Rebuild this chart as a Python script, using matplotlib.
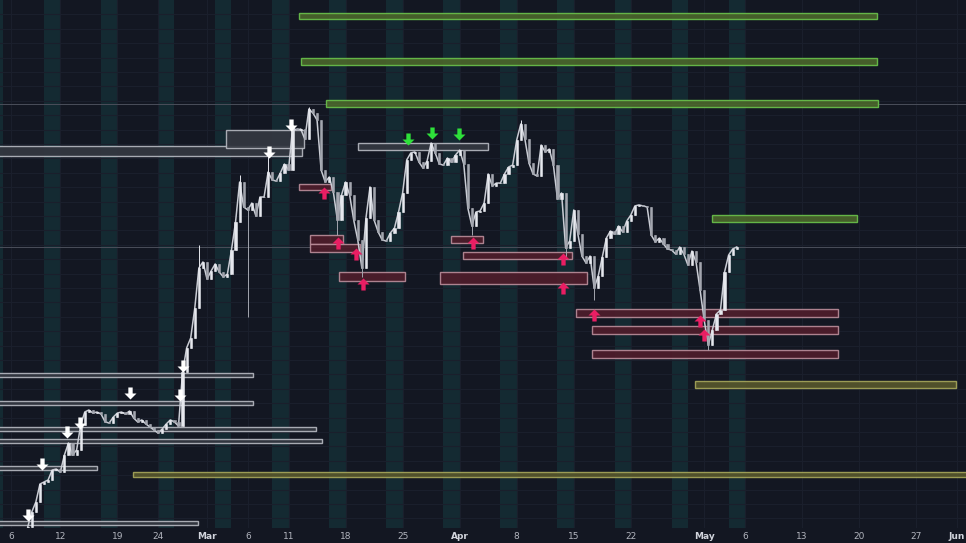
import matplotlib
matplotlib.use("Agg")
import matplotlib.pyplot as plt
import matplotlib.dates as mdates
from matplotlib.patches import Rectangle
from matplotlib.path import Path
import numpy as np
import pandas as pd

# 12h closes, starting 2024-02-08 00:00
closes = [
    44400, 45450, 46140, 47390, 47530, 47670, 48360, 48430, 48220, 49400,
    50240, 49400, 49750, 51490, 52390, 52530, 52320, 52390, 52250, 51700,
    51630, 52040, 52320, 52390, 52250, 52460, 51970, 51700, 51840, 51560,
    51350, 51140, 50930, 51210, 51560, 51840, 51700, 51420, 55170, 56840,
    57530, 59610, 62390, 62810, 61630, 62180, 62670, 62110, 61770, 61970,
    63640, 65580, 68360, 66630, 66420, 66900, 66000, 67320, 67320, 69060,
    68500, 68430, 68990, 69610, 69200, 72110, 71970, 72040, 71350, 73430,
    73150, 72670, 69200, 68360, 68710, 67670, 65720, 67460, 68360, 67460,
    65720, 64330, 62390, 65860, 68020, 65720, 64890, 64330, 64270, 64820,
    65170, 66280, 67600, 69890, 70380, 70450, 69750, 69330, 69820, 71070,
    70380, 69610, 69540, 70030, 69750, 70240, 70580, 69610, 66560, 65310,
    66280, 66350, 66900, 68920, 68080, 68290, 68290, 68920, 69400, 69540,
    71280, 72390, 71350, 69680, 68920, 68780, 70930, 70450, 70650, 69540,
    67180, 67600, 63780, 64270, 66420, 64750, 63220, 62740, 63220, 61000,
    61840, 63150, 64470, 64960, 64750, 65310, 64890, 65650, 66070, 66700,
    66770, 66700, 66630, 64680, 64200, 64470, 64060, 63710, 63640, 63360,
    63850, 63360, 62600, 63570, 62810, 60860, 58780, 57040, 58090, 59200,
    59470, 62110, 63290, 63710, 63850,
]
first_open = 44100
wick_hi = {42: 63990, 52: 68850, 59: 70380, 65: 72320, 69: 73570, 121: 72670}
wick_lo = {54: 58990, 76: 64680, 82: 61770, 109: 64680, 132: 63010, 139: 60170, 167: 56700}

last_price = 63850
high_line = 73780

# zones: start, end, top, bottom, kind
zone_start = ["2024-03-12 07:00", "2024-03-12 13:00", "2024-03-15 14:00", "2024-05-02 00:00",
              "2024-04-29 21:00", "2024-02-20 22:00",
              "2024-01-20", "2024-03-03 08:00", "2024-03-19 13:00", "2024-01-20", "2024-01-20",
              "2024-01-20", "2024-01-20", "2024-01-20", "2024-01-20",
              "2024-03-12 07:00", "2024-03-13 15:00", "2024-03-13 15:00", "2024-03-17 05:00",
              "2024-03-30 23:00", "2024-04-01 10:00", "2024-03-29 14:00", "2024-04-15 07:00",
              "2024-04-17 06:00", "2024-04-17 06:00"]
zone_end = ["2024-05-22 05:00", "2024-05-22 05:00", "2024-05-22 08:00", "2024-05-19 18:00",
            "2024-05-31 22:00", "2024-06-15",
            "2024-03-12 16:00", "2024-03-12 22:00", "2024-04-04 12:00", "2024-03-06 15:00", "2024-03-06 15:00",
            "2024-03-14 09:00", "2024-03-15 03:00", "2024-02-16 12:00", "2024-02-28 21:00",
            "2024-03-16 05:00", "2024-03-17 17:00", "2024-03-19 18:00", "2024-03-25 07:00",
            "2024-04-03 21:00", "2024-04-14 19:00", "2024-04-16 15:00", "2024-05-17 10:00",
            "2024-05-17 10:00", "2024-05-17 10:00"]
zone_top = [80100, 76970, 74060, 66070,
            54540, 48220,
            70860, 71970, 71070, 55100, 53150,
            51350, 50520, 48640, 44820,
            68220, 64680, 64060, 62110,
            64610, 63500, 62110, 59540,
            58360, 56700]
zone_bottom = [79680, 76490, 73570, 65580,
               54060, 47880,
               70170, 70720, 70580, 54820, 52880,
               51070, 50240, 48360, 44540,
               67810, 64060, 63500, 61490,
               64130, 63010, 61280, 58990,
               57810, 56140]
zone_kind = ["green"] * 4 + ["yellow"] * 2 + ["white"] * 9 + ["red"] * 10

# pivot arrows
white_time = ["2024-02-08 01:00", "2024-02-09 18:00", "2024-02-12 20:00", "2024-02-14 10:00",
              "2024-02-20 13:00", "2024-02-26 17:00", "2024-02-27 01:00", "2024-03-08 15:00",
              "2024-03-11 07:00"]
white_price = [45240, 48780, 51000, 51630, 53710, 53570, 55590, 70450, 72320]
green_time = ["2024-03-25 16:00", "2024-03-28 14:00", "2024-03-31 22:00"]
green_price = [71350, 71760, 71690]
pink_time = ["2024-03-15 09:00", "2024-03-17 02:00", "2024-03-19 07:00", "2024-03-20 03:00",
             "2024-04-02 15:00", "2024-04-13 16:00", "2024-04-13 16:00", "2024-04-17 12:00",
             "2024-04-30 12:00", "2024-05-01 00:00"]
pink_price = [67600, 64130, 63360, 61280, 64130, 63010, 61000, 59130, 58710, 57740]

tick_dates = ["2024-02-06", "2024-02-12", "2024-02-19", "2024-02-24", "2024-03-01", "2024-03-06",
              "2024-03-11", "2024-03-18", "2024-03-25", "2024-04-01", "2024-04-08", "2024-04-15",
              "2024-04-22", "2024-05-01", "2024-05-06", "2024-05-13", "2024-05-20", "2024-05-27",
              "2024-06-01"]
tick_labels = ["6", "12", "19", "24", "Mar", "6", "11", "18", "25", "Apr", "8", "15", "22",
               "May", "6", "13", "20", "27", "Jun"]

BG = "#131722"
fig = plt.figure(figsize=(9.66, 5.43), dpi=100, facecolor=BG)
ax = fig.add_axes([0, 15 / 543, 1, 528 / 543])
ax.set_facecolor(BG)
for s in ax.spines.values():
    s.set_visible(False)

x0 = mdates.date2num(pd.Timestamp("2024-02-04 14:24"))
x1 = mdates.date2num(pd.Timestamp("2024-06-02 03:00"))
ax.set_xlim(x0, x1)
ax.set_ylim(44336, 81000)

# weekend shading
for sat in pd.date_range("2024-02-03", "2024-05-04", freq="7D"):
    ax.axvspan(sat, sat + pd.Timedelta(days=2), color="#142a32", lw=0, zorder=0)

# grid
for p in range(45000, 81000, 1000):
    ax.axhline(p, color="#1a1f2c", lw=0.8, zorder=0.5)
ticks = [mdates.date2num(pd.Timestamp(d)) for d in tick_dates]
for t in ticks:
    ax.axvline(t, color="#1a1f2c", lw=0.8, zorder=0.5)

ax.axhline(high_line, color="#4a4e5a", lw=0.7, zorder=0.6)
ax.axhline(last_price, color="#4a4e5a", lw=0.7, zorder=0.6)

# zones
styles = {
    "green": ("#4a652b", "#69c04a"),
    "yellow": ("#56562c", "#a5a55a"),
    "white": ("#343841", "#b4b7bf"),
    "red": ("#4e1d2b", "#b98c99"),
}
for s, e, top, bot, k in zip(zone_start, zone_end, zone_top, zone_bottom, zone_kind):
    a = mdates.date2num(pd.Timestamp(s))
    b = mdates.date2num(pd.Timestamp(e))
    fc, ec = styles[k]
    ax.add_patch(Rectangle((a, bot), b - a, top - bot, facecolor=fc, edgecolor=ec,
                           lw=1.0, alpha=0.92, zorder=2))

# candles
times = mdates.date2num(pd.date_range("2024-02-08", periods=len(closes), freq="12h"))
closes_a = np.array(closes, dtype=float)
opens_a = np.concatenate([[first_open], closes_a[:-1]])
body_lo = np.minimum(opens_a, closes_a)
body_hi = np.maximum(opens_a, closes_a)
highs = body_hi.copy()
lows = body_lo.copy()
for i, v in wick_hi.items():
    highs[i] = v
for i, v in wick_lo.items():
    lows[i] = v
up = closes_a >= opens_a
cols = np.where(up, "#e6e8ee", "#a3a6af")
ax.plot(times, closes_a, color="#c9ccd4", lw=1.1, zorder=2.9)
ax.vlines(times, lows, highs, colors=cols, lw=0.7, zorder=3)
ax.bar(times, body_hi - body_lo, bottom=body_lo, width=0.27, color=cols,
       edgecolor=cols, lw=0.4, zorder=3)

# arrows
down_arrow = Path([(-0.18, 0.5), (0.18, 0.5), (0.18, 0.0), (0.5, 0.0), (0.0, -0.5),
                   (-0.5, 0.0), (-0.18, 0.0), (-0.18, 0.5)],
                  [Path.MOVETO] + [Path.LINETO] * 6 + [Path.CLOSEPOLY])
up_arrow = Path([(x, -y) for x, y in down_arrow.vertices], down_arrow.codes)


def tnum(lst):
    return [mdates.date2num(pd.Timestamp(t)) for t in lst]


ax.scatter(tnum(white_time), white_price, marker=down_arrow, s=75, color="white", lw=0, zorder=5)
ax.scatter(tnum(green_time), green_price, marker=down_arrow, s=75, color="#2ee03a", lw=0, zorder=5)
ax.scatter(tnum(pink_time), pink_price, marker=up_arrow, s=75, color="#e91e63", lw=0, zorder=5)

ax.set_yticks([])
ax.set_xticks(ticks)
ax.set_xticklabels(tick_labels)
ax.tick_params(axis="x", length=0, pad=3, labelsize=6.5, colors="#b2b5be")
for lab in ax.get_xticklabels():
    if not lab.get_text().isdigit():
        lab.set_fontweight("bold")
        lab.set_color("#d1d4dc")

fig.savefig("out.png", dpi=100, facecolor=BG)
